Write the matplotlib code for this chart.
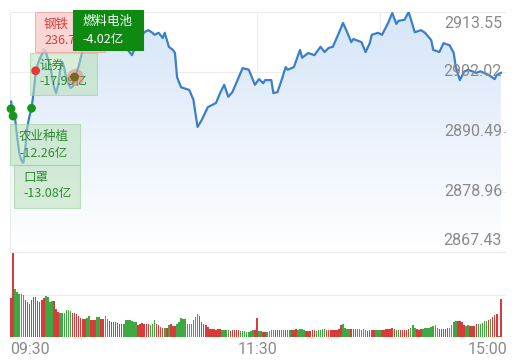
import numpy as np
import matplotlib.pyplot as plt
from matplotlib.patches import Rectangle, Polygon
from matplotlib.colors import LinearSegmentedColormap
from matplotlib.transforms import blended_transform_factory

plt.rcParams['font.family'] = ['Roboto', 'Noto Sans CJK SC', 'DejaVu Sans']

# ---- data ----
prev_close = 2890.49
price_ticks = [2913.55, 2902.02, 2890.49, 2878.96, 2867.43]
time_labels = ['09:30', '11:30', '15:00']

minutes = [0, 1, 2, 3, 4, 5, 6, 7, 8, 9, 10, 11, 12, 13, 14, 15, 16, 17, 18, 19,
           20, 21, 22, 23, 24, 25, 26, 27, 28, 29, 30, 31, 32, 33, 34, 35, 37, 40,
           42, 45, 48, 51, 54, 57, 59, 60, 62, 65, 67, 69, 70, 72, 74, 75, 77, 79,
           80, 81, 83, 84, 87, 89, 91, 93, 96, 100, 102, 104, 106, 108, 113, 116,
           119, 121, 123, 124, 127, 128, 130, 132, 134, 135, 138, 141, 142, 145,
           148, 151, 153, 155, 157, 160, 162, 164, 166, 167, 171, 173, 175, 176,
           179, 181, 184, 186, 188, 189, 192, 194, 197, 200, 202, 205, 206, 209,
           211, 214, 216, 217, 219, 221, 223, 227, 229, 233, 236, 237, 239]
prices = [2896.3, 2894.0, 2893.0, 2889.5, 2886.5, 2885.0, 2884.5, 2887.5, 2891.5,
          2893.5, 2895.0, 2898.0, 2901.8, 2903.4, 2904.5, 2905.3, 2906.4, 2905.9,
          2904.4, 2903.6, 2901.0, 2899.1, 2897.9, 2899.5, 2902.4, 2903.9, 2902.7,
          2900.5, 2899.8, 2898.9, 2899.1, 2900.4, 2902.0, 2903.0, 2904.7, 2906.2,
          2906.6, 2908.3, 2910.0, 2910.5, 2910.0, 2909.0, 2907.7, 2906.2, 2905.2,
          2906.2, 2907.9, 2909.6, 2910.0, 2909.5, 2909.1, 2909.5, 2908.5, 2909.5,
          2906.8, 2906.2, 2905.6, 2901.0, 2899.0, 2898.9, 2898.5, 2896.6, 2891.4,
          2892.7, 2895.2, 2896.0, 2897.9, 2899.5, 2897.2, 2898.1, 2902.7, 2902.4,
          2899.5, 2900.6, 2899.8, 2900.4, 2900.4, 2897.9, 2898.1, 2900.4, 2902.9,
          2902.4, 2902.9, 2906.2, 2904.7, 2905.6, 2905.2, 2906.8, 2905.8, 2906.6,
          2906.8, 2909.5, 2911.4, 2909.6, 2907.7, 2908.3, 2907.7, 2905.8, 2907.5,
          2909.1, 2909.5, 2909.1, 2911.4, 2913.3, 2911.2, 2911.8, 2912.0, 2913.5,
          2909.6, 2910.0, 2909.5, 2908.1, 2906.2, 2905.8, 2907.5, 2907.1, 2905.6,
          2902.9, 2900.4, 2902.0, 2902.4, 2901.8, 2902.1, 2901.4, 2900.6, 2901.4,
          2901.8]

# per-minute volume, morning / early afternoon / late afternoon
vol_am = [39, 84, 48, 45, 43, 43, 42, 37, 35, 33, 37, 40, 40, 36, 35, 37, 39, 41,
          40, 35, 36, 36, 28, 25, 24, 24, 24, 27, 27, 26, 24, 24, 23, 21, 19, 18,
          18, 19, 21, 17, 17, 17, 20, 20, 18, 18, 21, 18, 16, 15, 15, 15, 14, 13,
          13, 13, 17, 17, 17, 16, 15, 15, 12, 13, 14, 13, 13, 13, 12, 13, 17, 13,
          12, 10, 9, 9, 9, 12, 13, 11, 11, 13, 15]
vol_mid = [19, 18, 18, 13, 13, 13, 17, 20, 23, 21, 15, 13, 12, 10, 8, 8, 8, 7, 8,
           8, 7, 7, 7, 7, 6, 7, 7, 7, 7, 6, 6, 6, 5, 5, 6, 7, 7, 19, 6, 6, 5, 5,
           5, 6, 7, 7, 7, 7, 7, 7, 7, 7, 7, 7, 7, 7, 8, 7, 8, 8, 7, 6, 6, 6, 7, 7,
           6, 7, 7, 8, 8, 7, 7, 7, 7, 7, 7, 8, 12, 13, 9, 8, 8]
vol_pm = [8, 8, 8, 8, 8, 7, 8, 7, 6, 7, 7, 7, 7, 7, 7, 7, 7, 8, 8, 8, 9, 8, 7, 7,
          7, 7, 7, 7, 8, 9, 12, 9, 8, 7, 8, 8, 9, 9, 9, 10, 11, 12, 9, 8, 8, 8, 8,
          9, 9, 12, 15, 16, 16, 16, 15, 12, 11, 12, 11, 11, 11, 13, 13, 13, 14, 16,
          16, 17, 18, 20, 22, 23, 1, 38]
dir_am = ('rr' 'ggggg' 'rrrrrrrrrr' 'gggg' 'rrr' 'gggggg' 'rrrrrrr' 'gg' 'rrr'
          'gg' 'rr' 'gg' 'rrrrrrr' 'ggggggg' 'rrrrrr' 'ggg' 'rrrr' 'g' 'r' 'g'
          'rrr' 'gg')
dir_mid = ('ggggggggg' 'rrrrrrrrrrr' 'gggg' 'rrrrr' 'ggggggg' 'rr' 'gg' 'rr'
           'gggg' 'rrr' 'gg' 'r' 'gg' 'rrr' 'gggg' 'rrrrr' 'ggggg' 'rrrrrrrr'
           'gggg')
dir_pm = ('rrr' 'ggggg' 'rrrr' 'ggg' 'rrrrrrr' 'gg' 'rrrrr' 'ggg' 'rrr'
          'gggggggg' 'rrrrr' 'gggg' 'rrrr' 'gg' 'rrrr' 'ggggg' 'r' 'g' 'rrr'
          'g' 'r')
volume = vol_am + vol_mid + vol_pm
vol_dir = dir_am + dir_mid + dir_pm

ev_minutes = [0, 1, 10, 12, 31]
ev_prices = [2894.9, 2893.5, 2895.0, 2902.2, 2901.0]
ev_colors = ['#16961a', '#16961a', '#16961a', '#e53935', '#7a6a1e']

sectors = ['钢铁', '证券', '农业种植', '口罩', '燃料电池']
flows = ['236.7', '-17.99亿', '-12.26亿', '-13.08亿', '-4.02亿']

n = min(len(volume), len(vol_dir))

# ---- figure ----
W, H = 521, 360
fig = plt.figure(figsize=(W / 100, H / 100), dpi=100)
fig.patch.set_facecolor('white')


def px(x, y):
    return x / W, 1 - y / H


ax = fig.add_axes([10 / W, 1 - 251.7 / H, 496 / W, 240 / H])
axv = fig.add_axes([10 / W, 1 - 337 / H, 496 / W, 85 / H])

xlim = (-0.5, 241.5)
for a in (ax, axv):
    a.set_xlim(*xlim)
    a.set_xticks([])
    a.set_yticks([])
    for s in a.spines.values():
        s.set_visible(False)

ylo, yhi = price_ticks[-1], price_ticks[0]
ax.set_ylim(ylo, yhi)

# grid
grid_c = '#ececec'
for t in price_ticks:
    if t == prev_close:
        ax.axhline(t, color='#bdbdbd', lw=0.8, ls=(0, (3, 3)), zorder=1)
    else:
        ax.axhline(t, color=grid_c, lw=0.8, zorder=1)
for m in (60, 120, 180):
    ax.axvline(m, color=grid_c, lw=0.8, zorder=1)
ax.axvline(xlim[0], color=grid_c, lw=0.8, zorder=1)
ax.axvline(xlim[1], color=grid_c, lw=0.8, zorder=1)

# gradient fill under the price line
cmap = LinearSegmentedColormap.from_list('fill', ['#ffffff', '#d6e5f8'])
grad = np.linspace(0, 1, 256).reshape(-1, 1)
im = ax.imshow(grad, extent=[xlim[0], xlim[1], ylo, yhi], origin='lower',
               aspect='auto', cmap=cmap, zorder=1.5)
verts = [(minutes[0], ylo)] + list(zip(minutes, prices)) + [(minutes[-1], ylo)]
poly = Polygon(verts, closed=True, facecolor='none', edgecolor='none')
ax.add_patch(poly)
im.set_clip_path(poly)

ax.plot(minutes, prices, color='#3a7fcb', lw=1.6, zorder=2, solid_joinstyle='round')

# price labels on the right
tr = blended_transform_factory(ax.transAxes, ax.transData)
for i, t in enumerate(price_ticks):
    va = 'center'
    y = t
    if i == 0:
        va = 'top'
        y = t - 0.8
    elif i == len(price_ticks) - 1:
        va = 'bottom'
        y = t + 0.8
    ax.text(0.992, y, f'{t:.2f}', transform=tr, ha='right', va=va,
            fontsize=11.5, color='#8a8a8a', zorder=3)

# sector annotation boxes (pixel layout)
box_px = [(35, 12, 105, 52), (30, 53, 97, 95), (10, 124, 80, 165),
          (14, 165, 80, 208), (73, 10, 143, 50)]
box_face = ['#f8d0d0', '#b9e0b9', '#b9e0b9', '#b9e0b9', '#0e8a12']
box_edge = ['#f2a8a8', '#8fd08f', '#8fd08f', '#8fd08f', '#0e8a12']
box_alpha = [0.85, 0.55, 0.55, 0.55, 1.0]
txt_col = ['#e53935', '#2e8b2e', '#2e8b2e', '#2e8b2e', 'white']
box_z = [3, 3, 3, 3, 6]
for i, (x0, y0, x1, y1) in enumerate(box_px):
    bx, by = px(x0, y1)
    rect = Rectangle((bx, by), (x1 - x0) / W, (y1 - y0) / H,
                     transform=fig.transFigure, facecolor=box_face[i],
                     edgecolor=box_edge[i], lw=0.8, alpha=box_alpha[i],
                     zorder=box_z[i], clip_on=False)
    ax.add_patch(rect)
    tx, ty1 = px(x0 + 9, y0 + 12)
    _, ty2 = px(x0 + 9, y0 + 29)
    ax.text(tx, ty1, sectors[i], transform=fig.transFigure, fontsize=9,
            color=txt_col[i], va='center', ha='left', zorder=box_z[i] + 0.5,
            family=['Noto Sans CJK SC', 'DejaVu Sans'], clip_on=False)
    ax.text(tx, ty2, flows[i], transform=fig.transFigure, fontsize=9,
            color=txt_col[i], va='center', ha='left', zorder=box_z[i] + 0.5,
            family=['Noto Sans CJK SC', 'DejaVu Sans'], clip_on=False)

# event dots
ax.scatter([ev_minutes[-1]], [ev_prices[-1]], s=150, color='#e57373',
           alpha=0.45, lw=0, zorder=4, clip_on=False)
ax.scatter(ev_minutes, ev_prices, s=40, c=ev_colors, lw=0, zorder=5, clip_on=False)

# volume
vtop = max(volume) * 1.01
axv.set_ylim(0, vtop)
axv.axhline(vtop, color=grid_c, lw=0.8, zorder=0)
axv.axhline(vtop * 0.5, color=grid_c, lw=0.8, zorder=0)
cols = ['#d93a3a' if d == 'r' else '#3fa843' for d in vol_dir[:n]]
axv.bar(np.arange(n), volume[:n], width=0.75, color=cols, lw=0, zorder=2)

# time labels
fig.text(*px(10, 349), time_labels[0], ha='left', va='center', fontsize=11.5, color='#8a8a8a')
fig.text(*px(258, 349), time_labels[1], ha='center', va='center', fontsize=11.5, color='#8a8a8a')
fig.text(*px(507, 349), time_labels[2], ha='right', va='center', fontsize=11.5, color='#8a8a8a')

fig.savefig('out.png', dpi=100)
